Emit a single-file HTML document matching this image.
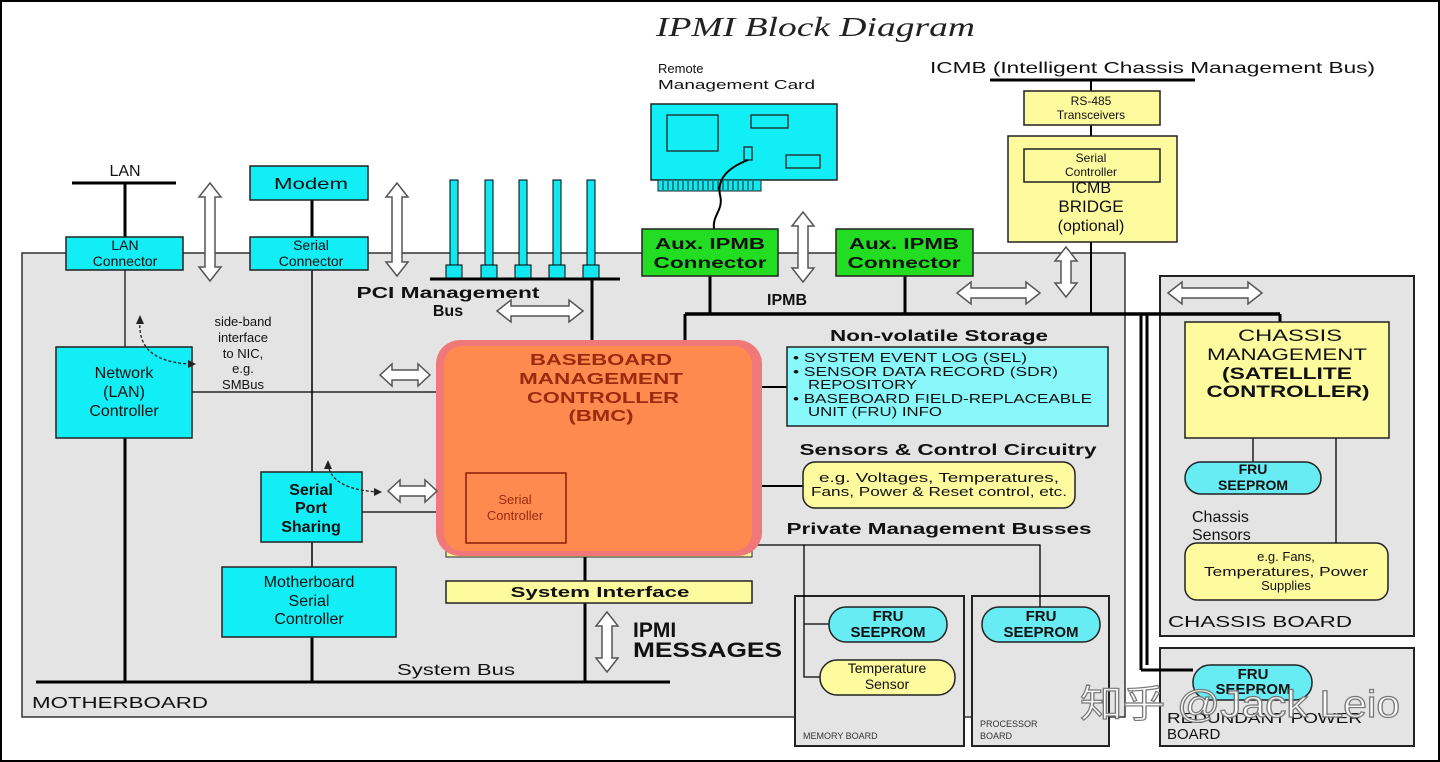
<!DOCTYPE html>
<html><head><meta charset="utf-8"><style>
html,body{margin:0;padding:0;background:#fff;}
svg{display:block;font-family:"Liberation Sans",Arial,sans-serif;}
</style></head><body>
<svg width="1440" height="762" viewBox="0 0 1440 762" xmlns="http://www.w3.org/2000/svg">
<rect x="1" y="1" width="1438" height="760" fill="#fff" stroke="#000" stroke-width="2"/>
<text x="656" y="36" font-family="Liberation Serif,serif" font-style="italic" font-size="27" fill="#222" textLength="319" lengthAdjust="spacingAndGlyphs">IPMI Block Diagram</text>

<!-- boards -->
<rect x="22" y="253" width="1103" height="464" fill="#e4e4e4" stroke="#333" stroke-width="1.5"/>
<text x="32" y="708" font-size="16" fill="#111" textLength="176" lengthAdjust="spacingAndGlyphs">MOTHERBOARD</text>
<rect x="1160" y="276" width="254" height="360" fill="#e4e4e4" stroke="#222" stroke-width="2"/>
<text x="1168" y="627" font-size="16" fill="#111" textLength="184" lengthAdjust="spacingAndGlyphs">CHASSIS BOARD</text>
<rect x="1160" y="648" width="254" height="98" fill="#e4e4e4" stroke="#222" stroke-width="2"/>
<text x="1167" y="723" font-size="15" fill="#111" textLength="195" lengthAdjust="spacingAndGlyphs">REDUNDANT POWER</text>
<text x="1167" y="739" font-size="15" fill="#111">BOARD</text>
<rect x="795" y="596" width="169" height="150" fill="#e4e4e4" stroke="#222" stroke-width="2"/>
<text x="803" y="739" font-size="9" fill="#333">MEMORY BOARD</text>
<rect x="972" y="596" width="137" height="150" fill="#e4e4e4" stroke="#222" stroke-width="2"/>
<text x="980" y="727" font-size="9" fill="#333">PROCESSOR</text>
<text x="980" y="739" font-size="9" fill="#333">BOARD</text>

<!-- lines -->
<g stroke="#000" fill="none">
<line x1="72" y1="183" x2="176" y2="183" stroke-width="3"/>
<line x1="125" y1="183" x2="125" y2="237" stroke-width="3"/>
<line x1="125" y1="270" x2="125" y2="347" stroke-width="1.2"/>
<line x1="125" y1="438" x2="125" y2="682" stroke-width="3"/>
<line x1="312" y1="200" x2="312" y2="237" stroke-width="3"/>
<line x1="312" y1="270" x2="312" y2="472" stroke-width="1.5"/>
<line x1="312" y1="542" x2="312" y2="567" stroke-width="1.5"/>
<line x1="312" y1="637" x2="312" y2="682" stroke-width="3"/>
<line x1="430" y1="279" x2="620" y2="279" stroke-width="3"/>
<line x1="592" y1="279" x2="592" y2="345" stroke-width="3"/>
<line x1="192" y1="392" x2="445" y2="392" stroke-width="1.2"/>
<line x1="362" y1="512" x2="466" y2="512" stroke-width="1.2"/>
<line x1="585" y1="555" x2="585" y2="581" stroke-width="3"/>
<line x1="585" y1="603" x2="585" y2="682" stroke-width="3"/>
<line x1="36" y1="682" x2="670" y2="682" stroke-width="3"/>
<line x1="710" y1="276" x2="710" y2="314" stroke-width="3"/>
<line x1="905" y1="276" x2="905" y2="314" stroke-width="3"/>
<line x1="685" y1="314" x2="1280" y2="314" stroke-width="3.5"/>
<line x1="685" y1="314" x2="685" y2="345" stroke-width="3"/>
<line x1="1280" y1="314" x2="1280" y2="322" stroke-width="3"/>
<line x1="1091" y1="242" x2="1091" y2="314" stroke-width="2"/>
<line x1="1091" y1="80" x2="1091" y2="91" stroke-width="2"/>
<line x1="1091" y1="125" x2="1091" y2="136" stroke-width="2"/>
<line x1="990" y1="80" x2="1195" y2="80" stroke-width="3"/>
<line x1="1141" y1="314" x2="1141" y2="670" stroke-width="3"/>
<line x1="1147" y1="314" x2="1147" y2="665" stroke-width="3"/>
<line x1="1141" y1="670" x2="1193" y2="670" stroke-width="3"/>
<line x1="752" y1="387" x2="787" y2="387" stroke-width="2"/>
<line x1="752" y1="486" x2="803" y2="486" stroke-width="2"/>
<polyline points="752,545 1040,545 1040,607" stroke-width="1.3"/>
<polyline points="804,545 804,677 820,677" stroke-width="1.3"/>
<line x1="804" y1="624" x2="829" y2="624" stroke-width="1.3"/>
<line x1="1253" y1="438" x2="1253" y2="462" stroke-width="1.3"/>
<line x1="1336" y1="438" x2="1336" y2="543" stroke-width="1.3"/>
</g>

<!-- PCI slots -->
<g fill="#11e8f0" stroke="#000" stroke-width="1">
<rect x="450" y="180" width="8" height="92"/><rect x="485" y="180" width="8" height="92"/><rect x="519" y="180" width="8" height="92"/><rect x="553" y="180" width="8" height="92"/><rect x="587" y="180" width="8" height="92"/>
<rect x="446" y="265" width="16" height="13"/><rect x="481" y="265" width="16" height="13"/><rect x="515" y="265" width="16" height="13"/><rect x="549" y="265" width="16" height="13"/><rect x="583" y="265" width="16" height="13"/>
</g>

<!-- cyan boxes -->
<g fill="#11eef5" stroke="#222" stroke-width="1.5">
<rect x="66" y="237" width="117" height="33"/>
<rect x="250" y="166" width="118" height="34"/>
<rect x="250" y="237" width="118" height="33"/>
<rect x="56" y="347" width="136" height="91"/>
<rect x="261" y="472" width="101" height="70"/>
<rect x="222" y="567" width="174" height="70"/>
<rect x="651" y="104" width="186" height="76"/>
<rect x="787" y="347" width="321" height="79" fill="#88f8fa"/>
</g>
<g fill="none" stroke="#222" stroke-width="1.3">
<rect x="667" y="115" width="51" height="36"/><rect x="751" y="115" width="37" height="13"/><rect x="786" y="155" width="34" height="13"/><rect x="744" y="147" width="8" height="13" fill="#11eef5"/>
</g>
<rect x="658" y="180" width="103" height="11" fill="#11e8f0" stroke="#222"/>
<g stroke="#222" stroke-width="1">
<line x1="663" y1="181" x2="663" y2="190"/><line x1="668" y1="181" x2="668" y2="190"/><line x1="673" y1="181" x2="673" y2="190"/><line x1="678" y1="181" x2="678" y2="190"/><line x1="683" y1="181" x2="683" y2="190"/><line x1="688" y1="181" x2="688" y2="190"/><line x1="693" y1="181" x2="693" y2="190"/><line x1="698" y1="181" x2="698" y2="190"/><line x1="703" y1="181" x2="703" y2="190"/><line x1="708" y1="181" x2="708" y2="190"/><line x1="713" y1="181" x2="713" y2="190"/><line x1="718" y1="181" x2="718" y2="190"/><line x1="723" y1="181" x2="723" y2="190"/><line x1="728" y1="181" x2="728" y2="190"/><line x1="733" y1="181" x2="733" y2="190"/><line x1="738" y1="181" x2="738" y2="190"/><line x1="743" y1="181" x2="743" y2="190"/><line x1="748" y1="181" x2="748" y2="190"/><line x1="753" y1="181" x2="753" y2="190"/>
</g>
<path d="M748,160 C735,165 716,175 720,195 C724,210 712,215 714,229" stroke="#000" stroke-width="2" fill="none"/>

<!-- green -->
<g fill="#22dd22" stroke="#222" stroke-width="1.5">
<rect x="642" y="229" width="136" height="47"/>
<rect x="836" y="229" width="137" height="47"/>
</g>

<!-- yellow -->
<g fill="#fdfb9e" stroke="#222" stroke-width="1.5">
<rect x="1024" y="91" width="136" height="34"/>
<rect x="1008" y="136" width="169" height="106"/>
<rect x="1024" y="149" width="136" height="33"/>
<rect x="446" y="581" width="306" height="22"/>
<rect x="1185" y="322" width="204" height="116"/>
<rect x="803" y="462" width="272" height="46" rx="12"/>
<rect x="1185" y="543" width="203" height="57" rx="12"/>
<rect x="820" y="660" width="135" height="35" rx="17"/>
</g>
<g fill="#66ecf2" stroke="#222" stroke-width="1.5">
<rect x="829" y="607" width="118" height="35" rx="17"/>
<rect x="982" y="607" width="118" height="35" rx="17"/>
<rect x="1185" y="462" width="136" height="32" rx="16"/>
<rect x="1193" y="665" width="119" height="35" rx="17"/>
</g>

<!-- BMC -->
<rect x="446" y="346" width="306" height="211" fill="#fdfb9e" stroke="#222"/>
<rect x="436" y="340" width="326" height="216" rx="24" fill="#f07878"/>
<rect x="444" y="346" width="308" height="205" rx="18" fill="#ff8a50"/>
<rect x="466" y="473" width="100" height="70" fill="none" stroke="#8a1a0a" stroke-width="1.5"/>
<g fill="#9a2a10" font-weight="bold" font-size="16" text-anchor="middle" lengthAdjust="spacingAndGlyphs">
<text x="601" y="365" textLength="142" lengthAdjust="spacingAndGlyphs">BASEBOARD</text><text x="601" y="384" textLength="164" lengthAdjust="spacingAndGlyphs">MANAGEMENT</text><text x="603" y="403" textLength="152" lengthAdjust="spacingAndGlyphs">CONTROLLER</text><text x="601" y="421" textLength="65" lengthAdjust="spacingAndGlyphs">(BMC)</text>
</g>
<text x="515" y="504" fill="#9a2a10" font-size="13" text-anchor="middle">Serial</text>
<text x="515" y="520" fill="#9a2a10" font-size="13" text-anchor="middle">Controller</text>

<!-- arrows -->
<g fill="#fff" stroke="#555" stroke-width="1.5">
<polygon points="210,183 221,197 215,197 215,267 221,267 210,281 199,267 205,267 205,197 199,197"/>
<polygon points="397,183 408,197 402,197 402,262 408,262 397,276 386,262 392,262 392,197 386,197"/>
<polygon points="803,212 814,226 808,226 808,268 814,268 803,282 792,268 798,268 798,226 792,226"/>
<polygon points="1066,247 1077,261 1071,261 1071,283 1077,283 1066,297 1055,283 1061,283 1061,261 1055,261"/>
<polygon points="607,612 618,626 612,626 612,658 618,658 607,672 596,658 602,658 602,626 596,626"/>
<polygon points="497,311 511,300 511,306 569,306 569,300 583,311 569,322 569,316 511,316 511,322"/>
<polygon points="380,375 392,364 392,370 418,370 418,364 430,375 418,386 418,380 392,380 392,386"/>
<polygon points="388,491 400,480 400,486 425,486 425,480 437,491 425,502 425,496 400,496 400,502"/>
<polygon points="957,293 971,282 971,288 1026,288 1026,282 1040,293 1026,304 1026,298 971,298 971,304"/>
<polygon points="1168,293 1182,282 1182,288 1248,288 1248,282 1262,293 1248,304 1248,298 1182,298 1182,304"/>
</g>
<g fill="none" stroke="#222" stroke-width="1.3" stroke-dasharray="3,2">
<path d="M140,320 C138,345 150,362 190,364"/>
<path d="M328,464 C330,480 345,490 378,492"/>
</g>
<polygon points="140,315 136,324 144,324" fill="#222"/>
<polygon points="196,364 188,360 188,368" fill="#222"/>
<polygon points="328,460 324,469 332,469" fill="#222"/>
<polygon points="382,492 374,488 374,496" fill="#222"/>

<!-- texts -->
<g fill="#111" font-size="14" text-anchor="middle">
<text x="125" y="176" font-size="16">LAN</text>
<text x="125" y="250">LAN</text><text x="125" y="266">Connector</text>
<text x="311" y="189" font-size="16" textLength="74" lengthAdjust="spacingAndGlyphs">Modem</text>
<text x="311" y="250">Serial</text><text x="311" y="266">Connector</text>
<text x="124" y="378" font-size="16">Network</text><text x="124" y="397" font-size="16">(LAN)</text><text x="124" y="416" font-size="16">Controller</text>
<text x="243" y="326" font-size="13">side-band</text><text x="243" y="342" font-size="13">interface</text><text x="243" y="358" font-size="13">to NIC,</text><text x="243" y="373" font-size="13">e.g.</text><text x="243" y="389" font-size="13">SMBus</text>
<text x="311" y="495" font-size="16" font-weight="bold">Serial</text><text x="311" y="513" font-size="16" font-weight="bold">Port</text><text x="311" y="532" font-size="16" font-weight="bold">Sharing</text>
<text x="309" y="587" font-size="16">Motherboard</text><text x="309" y="606" font-size="16">Serial</text><text x="309" y="624" font-size="16">Controller</text>
<text x="448" y="298" font-size="16" font-weight="bold" textLength="183" lengthAdjust="spacingAndGlyphs">PCI Management</text><text x="448" y="316" font-size="16" font-weight="bold">Bus</text>
<text x="600" y="597" font-size="15" font-weight="bold" textLength="179" lengthAdjust="spacingAndGlyphs">System Interface</text>
<text x="456" y="675" font-size="16" textLength="118" lengthAdjust="spacingAndGlyphs">System Bus</text>
<text x="710" y="249" font-size="16" font-weight="bold" textLength="110" lengthAdjust="spacingAndGlyphs">Aux. IPMB</text><text x="710" y="268" font-size="16" font-weight="bold" textLength="113" lengthAdjust="spacingAndGlyphs">Connector</text>
<text x="904" y="249" font-size="16" font-weight="bold" textLength="110" lengthAdjust="spacingAndGlyphs">Aux. IPMB</text><text x="904" y="268" font-size="16" font-weight="bold" textLength="113" lengthAdjust="spacingAndGlyphs">Connector</text>
<text x="787" y="305" font-size="16" font-weight="bold">IPMB</text>
<text x="1091" y="105" font-size="12">RS-485</text><text x="1091" y="119" font-size="12">Transceivers</text>
<text x="1091" y="162" font-size="12">Serial</text><text x="1091" y="176" font-size="12">Controller</text>
<text x="1091" y="193" font-size="16">ICMB</text><text x="1091" y="212" font-size="17">BRIDGE</text><text x="1091" y="231" font-size="16">(optional)</text>
<text x="939" y="341" font-size="16" font-weight="bold" textLength="218" lengthAdjust="spacingAndGlyphs">Non-volatile Storage</text>
<text x="948" y="455" font-size="16" font-weight="bold" textLength="297" lengthAdjust="spacingAndGlyphs">Sensors &amp; Control Circuitry</text>
<text x="939" y="482" font-size="13" textLength="240" lengthAdjust="spacingAndGlyphs">e.g. Voltages, Temperatures,</text><text x="939" y="496" font-size="13" textLength="256" lengthAdjust="spacingAndGlyphs">Fans, Power &amp; Reset control, etc.</text>
<text x="939" y="534" font-size="16" font-weight="bold" textLength="305" lengthAdjust="spacingAndGlyphs">Private Management Busses</text>
<text x="888" y="621" font-size="15" font-weight="bold">FRU</text><text x="888" y="637" font-size="15" font-weight="bold">SEEPROM</text>
<text x="1041" y="621" font-size="15" font-weight="bold">FRU</text><text x="1041" y="637" font-size="15" font-weight="bold">SEEPROM</text>
<text x="887" y="673" font-size="14">Temperature</text><text x="887" y="689" font-size="14">Sensor</text>
<text x="1290" y="341" font-size="17" textLength="104" lengthAdjust="spacingAndGlyphs">CHASSIS</text><text x="1287" y="360" font-size="17" textLength="160" lengthAdjust="spacingAndGlyphs">MANAGEMENT</text><text x="1287" y="379" font-size="17" font-weight="bold" textLength="130" lengthAdjust="spacingAndGlyphs">(SATELLITE</text><text x="1288" y="397" font-size="17" font-weight="bold" textLength="163" lengthAdjust="spacingAndGlyphs">CONTROLLER)</text>
<text x="1253" y="474" font-size="14" font-weight="bold">FRU</text><text x="1253" y="490" font-size="14" font-weight="bold">SEEPROM</text>
<text x="1286" y="561" font-size="13">e.g. Fans,</text><text x="1286" y="576" font-size="13" textLength="164" lengthAdjust="spacingAndGlyphs">Temperatures, Power</text><text x="1286" y="590" font-size="13">Supplies</text>
<text x="1253" y="679" font-size="15" font-weight="bold">FRU</text><text x="1253" y="694" font-size="15" font-weight="bold">SEEPROM</text>
</g>
<g fill="#111" font-size="13">
<text x="793" y="362" textLength="234" lengthAdjust="spacingAndGlyphs">• SYSTEM EVENT LOG (SEL)</text>
<text x="793" y="376" textLength="265" lengthAdjust="spacingAndGlyphs">• SENSOR DATA RECORD (SDR)</text>
<text x="808" y="389" textLength="109" lengthAdjust="spacingAndGlyphs">REPOSITORY</text>
<text x="793" y="403" textLength="299" lengthAdjust="spacingAndGlyphs">• BASEBOARD FIELD-REPLACEABLE</text>
<text x="808" y="416" textLength="134" lengthAdjust="spacingAndGlyphs">UNIT (FRU) INFO</text>
<text x="658" y="73">Remote</text><text x="658" y="89" textLength="157" lengthAdjust="spacingAndGlyphs">Management Card</text>
</g>
<text x="930" y="73" font-size="16" fill="#111" textLength="445" lengthAdjust="spacingAndGlyphs">ICMB (Intelligent Chassis Management Bus)</text>
<text x="1192" y="522" font-size="16" fill="#111">Chassis</text><text x="1192" y="540" font-size="16" fill="#111">Sensors</text>
<text x="633" y="637" font-size="21" font-weight="bold" fill="#111">IPMI</text>
<text x="633" y="657" font-size="21" font-weight="bold" fill="#111" textLength="149" lengthAdjust="spacingAndGlyphs">MESSAGES</text>
<text x="1080" y="717" font-size="38" fill="#fff" stroke="#777" stroke-width="1.2" fill-opacity="0.85" textLength="320" lengthAdjust="spacingAndGlyphs" font-family="Liberation Sans,Noto Sans CJK SC,sans-serif">知乎 @Jack Leio</text>
</svg>
</body></html>
